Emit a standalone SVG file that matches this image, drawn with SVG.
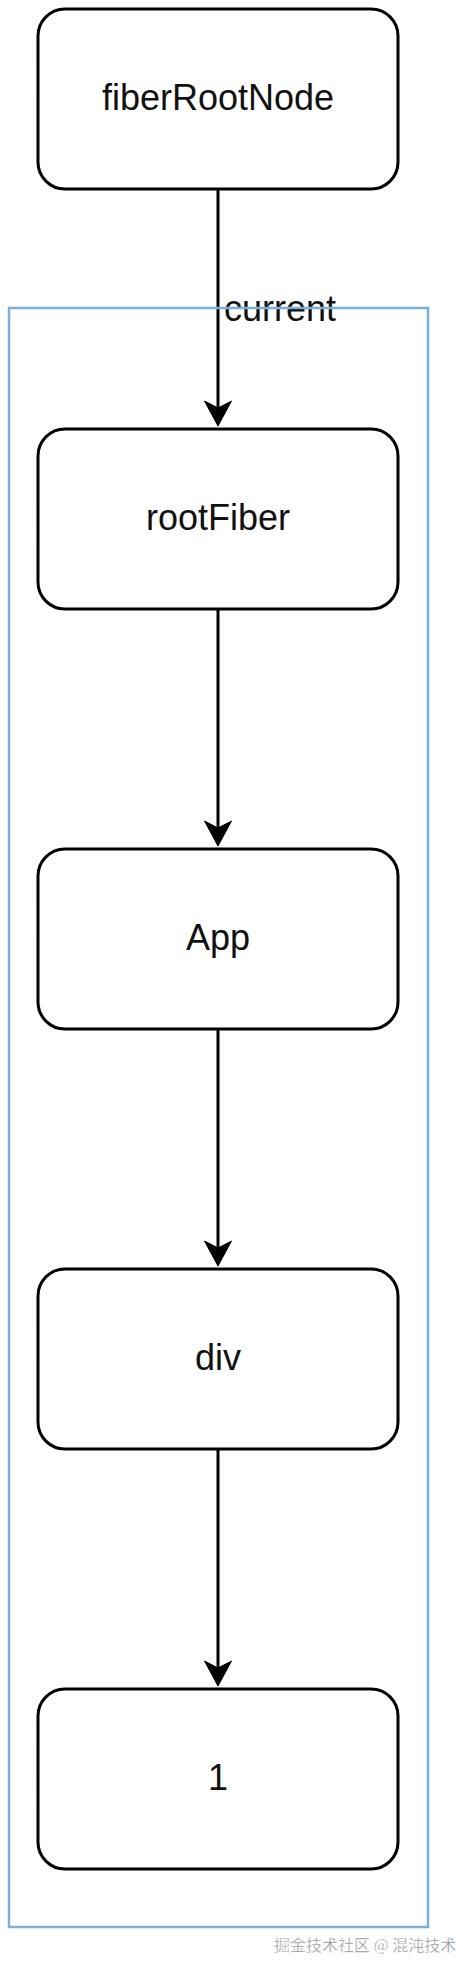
<svg xmlns="http://www.w3.org/2000/svg" width="471" height="1971" viewBox="0 0 471 1971">
<style>
.node{fill:#fff;stroke:#000;stroke-width:3}
.lbl{font-family:"Liberation Sans",Arial,sans-serif;font-size:36px;fill:#111;text-anchor:middle}
.edge{stroke:#000;stroke-width:3;fill:none}
.head{fill:#000;stroke:#000;stroke-width:1}
.frame{fill:none;stroke:#7bafd6;stroke-width:2.5}
.wm{font-family:"Noto Sans CJK SC","Liberation Sans",sans-serif;font-size:16px;fill:#8a8a8a;stroke:#fff;stroke-width:0.4}
</style>
<rect width="471" height="1971" fill="#fff"/>
<g id="connectors">
<line class="edge" x1="218" y1="189" x2="218" y2="410"/>
<path class="head" d="M218,426 L204.5,401 L218,408 L231.5,401 Z"/>
<line class="edge" x1="218" y1="609" x2="218" y2="830"/>
<path class="head" d="M218,846 L204.5,821 L218,828 L231.5,821 Z"/>
<line class="edge" x1="218" y1="1029" x2="218" y2="1250"/>
<path class="head" d="M218,1266 L204.5,1241 L218,1248 L231.5,1241 Z"/>
<line class="edge" x1="218" y1="1449" x2="218" y2="1670"/>
<path class="head" d="M218,1686 L204.5,1661 L218,1668 L231.5,1661 Z"/>
<text id="edge-label-current" x="224" y="321" style="font-family:'Liberation Sans',Arial,sans-serif;font-size:36px;fill:#111">current</text>
</g>
<g id="fiber-tree-frame">
<rect class="frame" x="9" y="308" width="419" height="1619"/>
</g>
<g id="fiberRootNode">
<rect class="node" x="38" y="9" width="360" height="180" rx="27" ry="27"/>
<text class="lbl" x="218" y="110">fiberRootNode</text>
</g>
<g id="rootFiber">
<rect class="node" x="38" y="429" width="360" height="180" rx="27" ry="27"/>
<text class="lbl" x="218" y="530">rootFiber</text>
</g>
<g id="App">
<rect class="node" x="38" y="849" width="360" height="180" rx="27" ry="27"/>
<text class="lbl" x="218" y="950">App</text>
</g>
<g id="div">
<rect class="node" x="38" y="1269" width="360" height="180" rx="27" ry="27"/>
<text class="lbl" x="218" y="1370">div</text>
</g>
<g id="text-1">
<rect class="node" x="38" y="1689" width="360" height="180" rx="27" ry="27"/>
<text class="lbl" x="218" y="1790">1</text>
</g>
<text class="wm" x="274" y="1951">掘金技术社区 @ 混沌技术</text>
</svg>
